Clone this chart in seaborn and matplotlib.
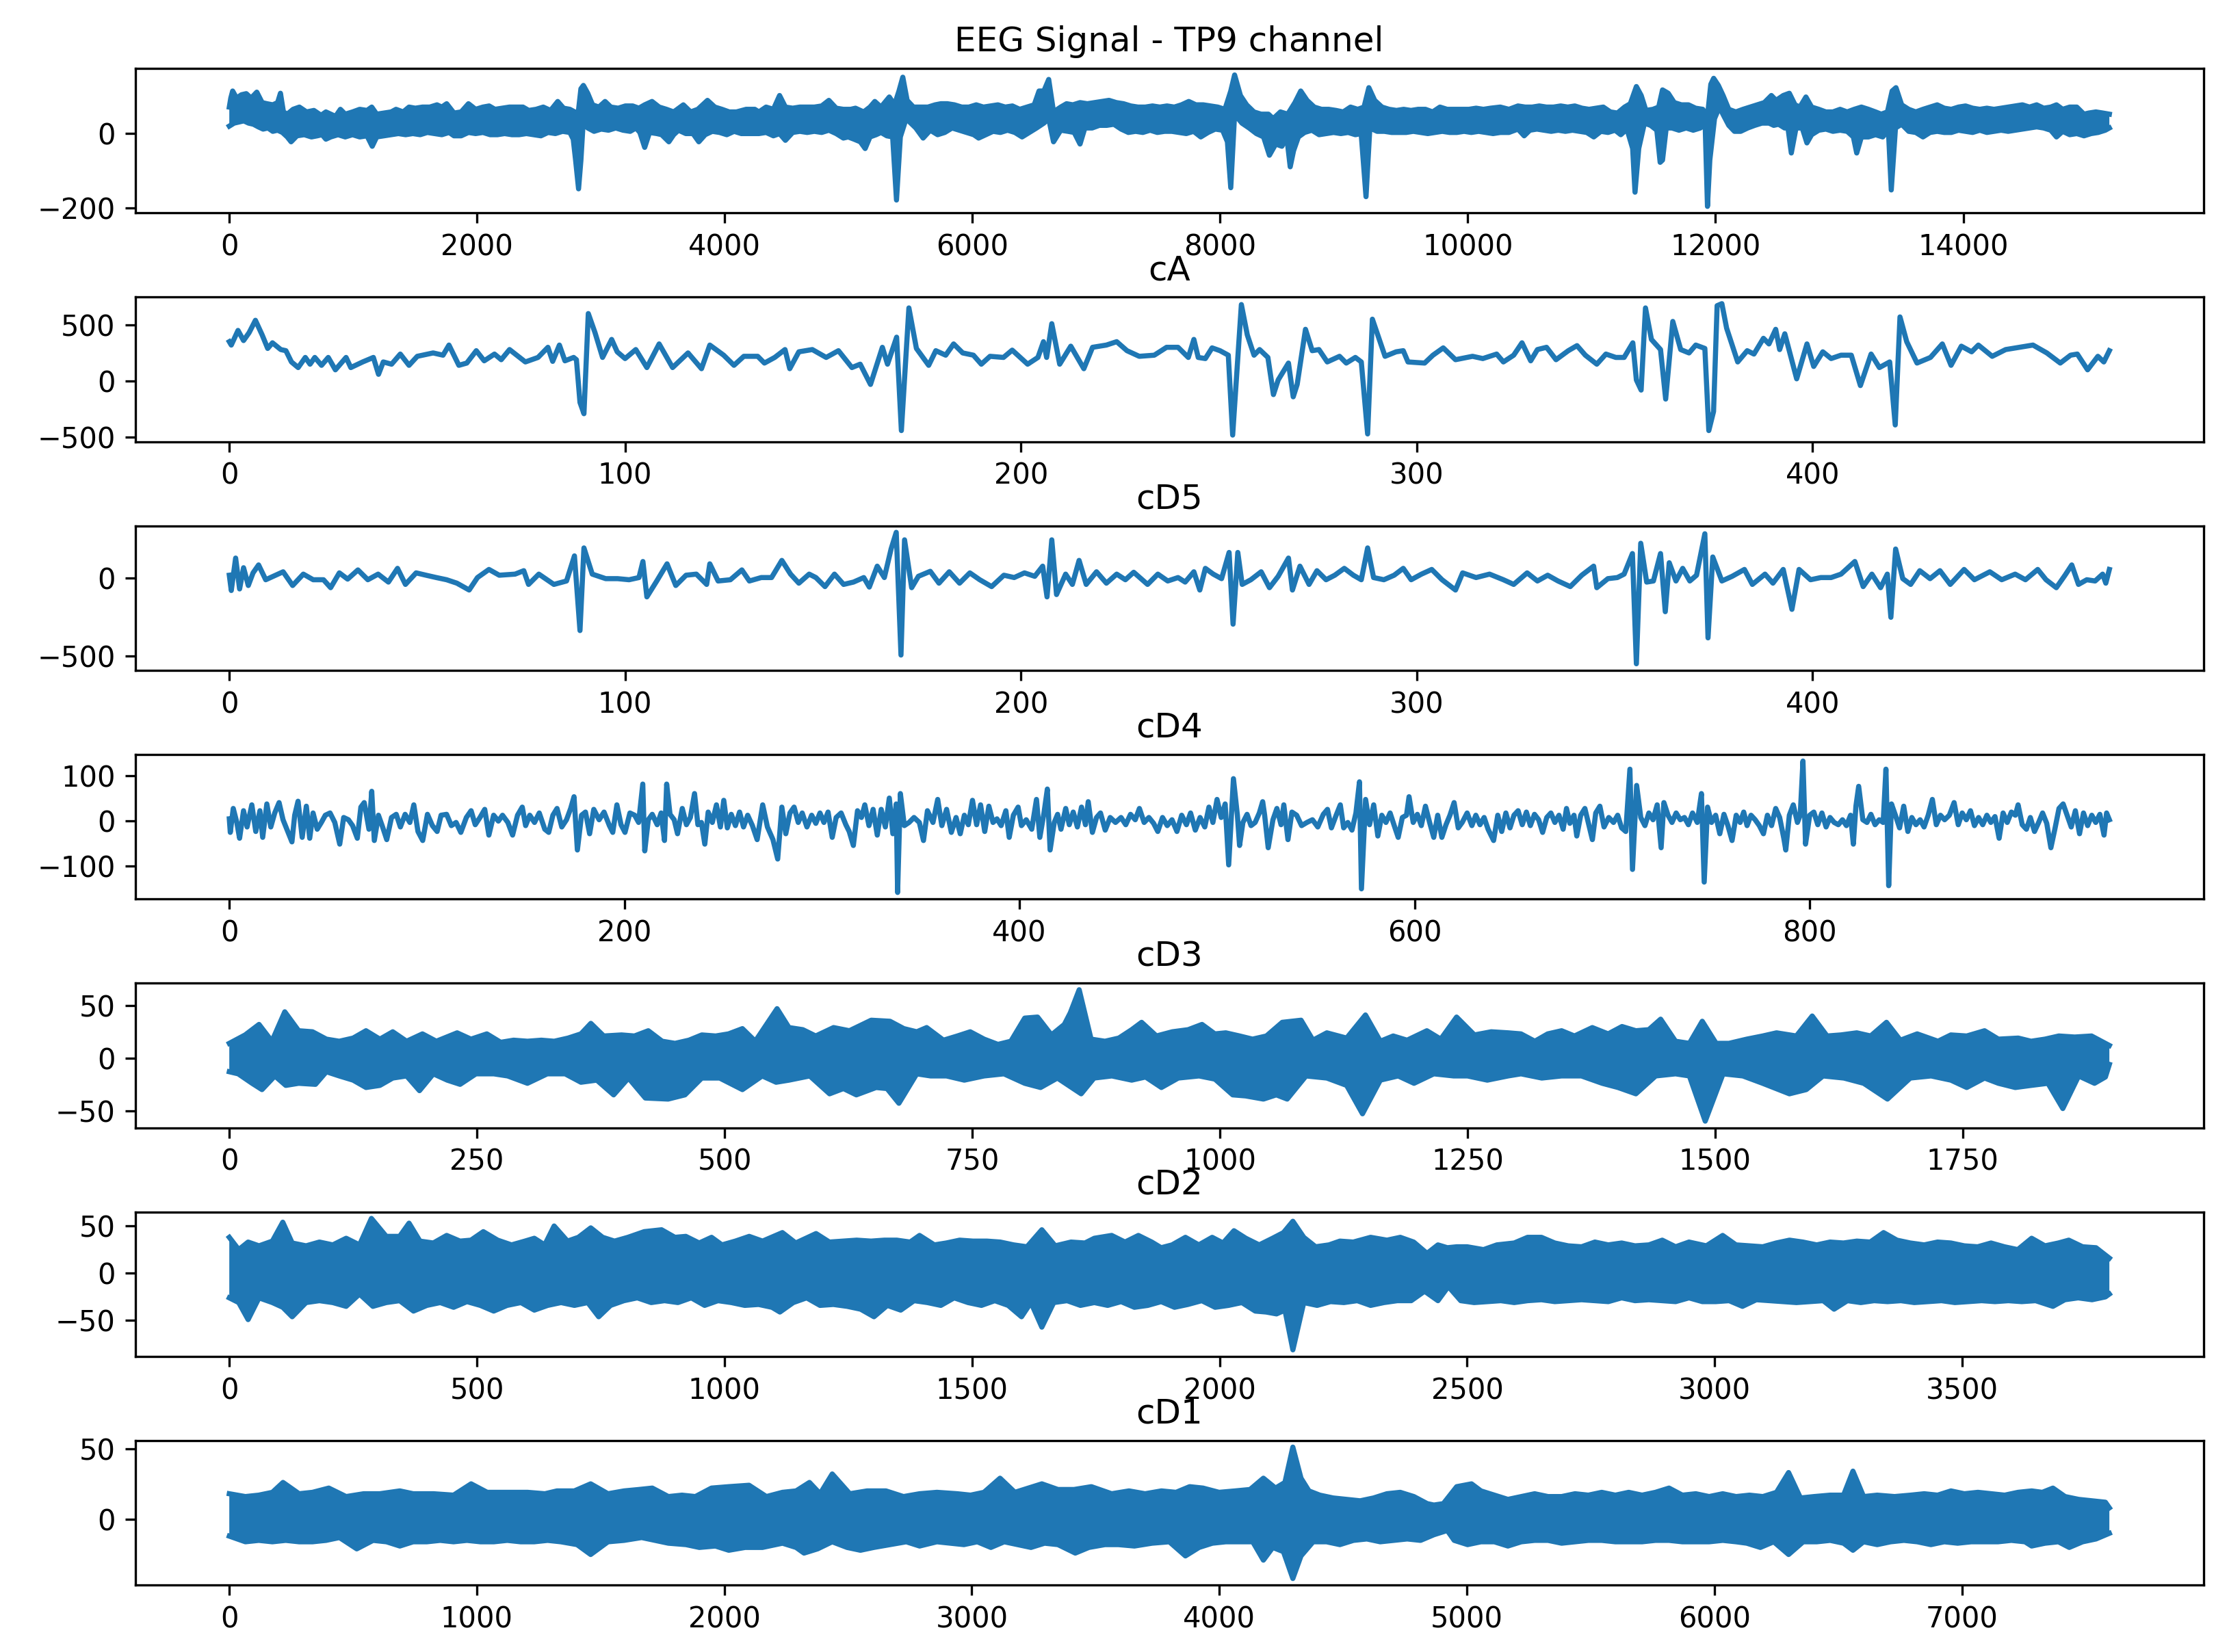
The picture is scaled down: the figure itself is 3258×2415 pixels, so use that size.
import matplotlib
matplotlib.use("Agg")
import matplotlib.pyplot as plt
from matplotlib.ticker import MultipleLocator
import seaborn as sns

# values (sample index, amplitude)
# dense panels are stored as upper / lower envelope of the trace

tp9_upper = [(0, 71), (12, 95), (27, 114), (59, 95), (98, 104), (137, 107), (176, 95), (222, 111), (265, 83),
             (304, 80), (351, 77), (390, 83), (413, 108), (437, 58), (468, 52), (515, 65), (566, 71), (624, 58),
             (683, 62), (741, 49), (780, 58), (819, 52), (858, 46), (897, 65), (936, 52), (995, 58), (1053, 65),
             (1112, 62), (1150, 71), (1190, 52), (1248, 55), (1307, 58), (1346, 65), (1404, 58), (1451, 71),
             (1502, 68), (1560, 71), (1619, 71), (1677, 77), (1716, 71), (1755, 80), (1814, 55), (1872, 58),
             (1931, 80), (1989, 65), (2048, 71), (2098, 74), (2145, 65), (2204, 68), (2262, 71), (2321, 71),
             (2371, 71), (2418, 62), (2477, 65), (2535, 71), (2594, 62), (2652, 86), (2699, 68), (2750, 65),
             (2789, 58), (2808, 28), (2839, 120), (2859, 129), (2894, 108), (2933, 77), (2984, 71), (3034, 86),
             (3081, 71), (3140, 68), (3198, 74), (3257, 74), (3307, 68), (3354, 77), (3413, 86), (3471, 71),
             (3530, 65), (3588, 58), (3666, 77), (3725, 58), (3783, 65), (3861, 89), (3920, 71), (3978, 65),
             (4037, 58), (4095, 58), (4173, 65), (4243, 65), (4276, 58), (4334, 71), (4393, 65), (4443, 102),
             (4490, 71), (4549, 68), (4607, 71), (4666, 71), (4724, 71), (4783, 74), (4841, 89), (4900, 68),
             (4958, 65), (5017, 65), (5056, 68), (5122, 58), (5173, 71), (5212, 86), (5262, 71), (5329, 98),
             (5371, 77), (5407, 114), (5438, 151), (5473, 89), (5524, 71), (5582, 71), (5641, 71), (5699, 77),
             (5746, 80), (5797, 80), (5855, 77), (5914, 71), (5972, 71), (6031, 77), (6089, 71), (6148, 74),
             (6206, 77), (6265, 71), (6323, 74), (6382, 65), (6440, 71), (6499, 77), (6538, 114), (6577, 114),
             (6616, 145), (6655, 58), (6713, 71), (6760, 80), (6811, 77), (6869, 83), (6928, 80), (6986, 83),
             (7045, 86), (7103, 89), (7162, 83), (7220, 80), (7279, 74), (7337, 71), (7396, 71), (7454, 74),
             (7513, 71), (7571, 74), (7630, 71), (7688, 77), (7747, 86), (7805, 77), (7864, 77), (7922, 74),
             (7981, 71), (8039, 65), (8086, 114), (8117, 157), (8164, 102), (8214, 77), (8273, 58), (8331, 52),
             (8390, 52), (8429, 40), (8487, 58), (8546, 52), (8604, 83), (8651, 114), (8702, 89), (8760, 71),
             (8819, 65), (8877, 65), (8936, 62), (8994, 58), (9053, 71), (9111, 65), (9162, 71), (9201, 123),
             (9248, 89), (9307, 71), (9365, 65), (9424, 62), (9482, 65), (9541, 62), (9599, 65), (9658, 65),
             (9716, 58), (9775, 71), (9833, 65), (9892, 65), (9950, 65), (10009, 65), (10067, 68), (10126, 65),
             (10184, 68), (10262, 71), (10332, 65), (10405, 74), (10463, 71), (10520, 71), (10577, 74),
             (10635, 71), (10692, 71), (10750, 74), (10807, 71), (10864, 74), (10922, 68), (10979, 65),
             (11036, 68), (11094, 71), (11151, 58), (11208, 55), (11266, 71), (11312, 80), (11361, 126),
             (11400, 102), (11438, 62), (11495, 65), (11541, 71), (11572, 117), (11618, 108), (11667, 83),
             (11725, 77), (11782, 77), (11839, 68), (11897, 65), (11935, 46), (11962, 132), (11985, 148),
             (12023, 129), (12061, 102), (12107, 65), (12164, 58), (12222, 65), (12279, 71), (12336, 77),
             (12394, 83), (12451, 102), (12489, 89), (12547, 102), (12596, 108), (12642, 77), (12681, 71),
             (12730, 98), (12776, 71), (12834, 65), (12891, 58), (12948, 58), (13006, 65), (13063, 58),
             (13120, 65), (13178, 71), (13235, 65), (13292, 58), (13338, 52), (13388, 58), (13426, 114),
             (13457, 123), (13503, 77), (13560, 65), (13617, 58), (13675, 65), (13732, 71), (13790, 77),
             (13847, 68), (13904, 65), (13962, 71), (14019, 74), (14076, 68), (14134, 65), (14191, 68),
             (14248, 65), (14306, 68), (14363, 71), (14421, 74), (14478, 77), (14535, 71), (14593, 77),
             (14650, 68), (14707, 71), (14753, 77), (14803, 65), (14860, 71), (14917, 71), (14975, 52),
             (15013, 55), (15071, 58), (15128, 55), (15180, 52)]

tp9_lower = [(0, 20), (39, 28), (78, 31), (117, 34), (156, 28), (195, 25), (234, 18), (273, 12), (312, 15),
             (351, 6), (390, 9), (429, 3), (468, -9), (499, -22), (546, -6), (605, -3), (663, -9), (710, -6),
             (749, -3), (780, -15), (819, -9), (878, -3), (936, -9), (995, -3), (1053, -9), (1112, -6),
             (1154, -34), (1190, -9), (1248, -6), (1307, -3), (1365, 0), (1424, -3), (1482, 0), (1541, -3),
             (1599, 3), (1658, 0), (1716, -3), (1775, 3), (1814, -6), (1872, -6), (1931, 3), (1989, 0),
             (2048, 3), (2106, -3), (2165, -3), (2223, 0), (2282, -3), (2340, -3), (2399, 0), (2457, -3),
             (2516, -6), (2574, 3), (2633, 0), (2691, 6), (2750, 3), (2777, -15), (2796, -71), (2820, -148),
             (2839, -71), (2859, 40), (2894, 15), (2945, 6), (3003, 12), (3062, 9), (3120, 15), (3179, 9),
             (3237, 6), (3284, 15), (3315, 3), (3354, -37), (3393, 3), (3452, 0), (3491, -3), (3549, -22),
             (3588, -3), (3627, 9), (3686, 0), (3744, 0), (3791, -22), (3842, -3), (3900, 6), (3959, 3),
             (4017, -3), (4076, 6), (4134, 0), (4193, 0), (4243, 0), (4276, 0), (4334, 3), (4393, -6),
             (4443, 0), (4490, -18), (4549, 3), (4607, 6), (4666, 3), (4724, 6), (4783, 3), (4841, 9),
             (4900, 0), (4958, -12), (4997, -9), (5044, -15), (5095, -22), (5134, -40), (5173, -9), (5223, -3),
             (5262, 3), (5309, -6), (5356, -9), (5387, -178), (5418, -9), (5465, 40), (5543, 15), (5602, -12),
             (5660, 9), (5719, -3), (5777, 3), (5836, 15), (5894, 9), (5953, 3), (6011, -3), (6050, -12),
             (6109, -3), (6167, 6), (6226, 3), (6284, 9), (6343, 3), (6401, -9), (6460, 3), (6518, 15),
             (6577, 28), (6616, 40), (6655, -22), (6713, 9), (6772, 6), (6822, 3), (6869, -28), (6908, 15),
             (6967, 15), (7025, 22), (7084, 22), (7142, 25), (7201, 12), (7259, 3), (7318, 6), (7376, 3),
             (7435, 9), (7493, 3), (7552, 6), (7610, 6), (7669, 3), (7727, 0), (7786, 6), (7844, -9),
             (7903, 3), (7961, 12), (8020, 9), (8059, -22), (8086, -145), (8117, 52), (8176, 28), (8234, 15),
             (8293, 0), (8351, -9), (8398, -58), (8449, -28), (8499, -34), (8538, -9), (8566, -89),
             (8593, -46), (8632, -9), (8682, 3), (8741, 9), (8799, -3), (8858, 0), (8916, 3), (8975, 0),
             (9034, 3), (9092, -3), (9139, 0), (9178, -169), (9209, 15), (9268, 6), (9326, 6), (9385, 3),
             (9443, 3), (9502, 3), (9560, 6), (9619, 3), (9677, 0), (9736, 3), (9794, 6), (9853, 3),
             (9911, 3), (9970, 6), (10028, 3), (10087, 6), (10145, 3), (10204, 0), (10262, 3), (10332, 3),
             (10405, 12), (10455, -6), (10501, 9), (10558, 12), (10616, 9), (10673, 6), (10730, 9), (10788, 6),
             (10845, 9), (10902, 6), (10960, 3), (11017, -9), (11075, 6), (11132, 3), (11189, 9), (11235, -3),
             (11285, 12), (11331, -40), (11350, -157), (11380, -40), (11426, 28), (11476, 22), (11526, 9),
             (11553, -77), (11572, -71), (11602, 15), (11648, 15), (11705, 9), (11763, 15), (11820, 9),
             (11878, 15), (11916, 28), (11935, -195), (11954, -71), (11992, 40), (12031, 71), (12069, 46),
             (12107, 22), (12153, 6), (12203, 6), (12260, 15), (12317, 22), (12375, 28), (12432, 28),
             (12470, 22), (12509, 25), (12558, 15), (12585, 15), (12612, -52), (12650, 15), (12700, 15),
             (12738, -25), (12776, -3), (12834, 9), (12891, 12), (12948, 6), (13006, 9), (13063, 6),
             (13113, -9), (13140, -52), (13178, -9), (13235, -9), (13292, -3), (13350, -9), (13396, 9),
             (13419, -151), (13453, 15), (13503, 25), (13560, 6), (13617, 3), (13675, -9), (13732, 3),
             (13790, 6), (13847, 3), (13904, 3), (13962, 9), (14019, 6), (14076, 3), (14134, 9), (14191, 3),
             (14248, 6), (14306, 9), (14363, 6), (14421, 9), (14478, 12), (14535, 15), (14593, 18),
             (14650, 15), (14707, 9), (14753, -9), (14803, 6), (14860, -3), (14917, 0), (14975, -6),
             (15033, 0), (15090, 3), (15147, 9), (15180, 15)]

ca_points = [(0, 350), (0.5, 320), (2.2, 450), (3.6, 360), (5, 430), (6.6, 540), (8.3, 410), (9.7, 290),
             (10.9, 340), (13, 280), (14.3, 270), (15.7, 170), (17.4, 120), (19.2, 210), (20.4, 150),
             (21.6, 210), (23.3, 140), (25, 210), (26.8, 100), (29.5, 210), (30.7, 120), (33.7, 170),
             (36.4, 210), (37.7, 60), (38.9, 170), (41, 150), (43.2, 240), (45.4, 140), (47.5, 220),
             (51.5, 250), (54, 230), (55.5, 320), (58, 140), (60, 160), (62.4, 270), (64.4, 180), (67, 240),
             (68.7, 190), (70.8, 280), (74.8, 170), (78, 210), (80.5, 300), (81.7, 175), (83.4, 320),
             (84.8, 180), (87, 210), (87.7, 190), (88.6, -190), (89.6, -290), (90.7, 600), (92.4, 430),
             (94.3, 210), (96.6, 370), (98, 260), (100, 200), (102.7, 280), (105.5, 120), (108.6, 330),
             (112, 120), (115.9, 250), (119.3, 110), (121.4, 320), (124.9, 230), (127.5, 140), (130, 220),
             (133.5, 220), (135.2, 160), (137.8, 210), (140.4, 280), (141.6, 110), (143.9, 260), (147.3, 280),
             (150.8, 210), (153.9, 270), (157.3, 120), (159.4, 150), (162, -30), (165, 300), (166.3, 150),
             (168.6, 390), (169.8, -440), (171.7, 650), (173.6, 290), (176.7, 140), (178.5, 270), (181, 230),
             (183, 330), (185.3, 250), (188, 230), (190, 150), (192.2, 220), (195.6, 210), (197.8, 275),
             (201.7, 150), (204.3, 210), (205.7, 350), (206.5, 210), (207.8, 510), (209.8, 150), (212.6, 310),
             (215.9, 110), (218.1, 300), (221.6, 320), (224.2, 350), (226.8, 270), (229.9, 220), (233.7, 230),
             (236.8, 300), (239.7, 300), (242.3, 210), (243.7, 370), (244.8, 210), (246.6, 200), (248.3, 295),
             (250.3, 270), (252.4, 230), (253.5, -480), (255.7, 680), (257.2, 410), (258.9, 230), (260.3, 280),
             (262.4, 210), (263.8, -120), (265, 10), (267.6, 160), (268.8, -140), (269.8, -30), (271.9, 460),
             (273.6, 270), (275.3, 280), (277.4, 170), (280.5, 220), (282.2, 160), (284.5, 210), (286, 170),
             (287.6, -470), (288.8, 550), (292, 220), (294.8, 260), (296.6, 270), (297.8, 170), (302, 160),
             (304.1, 230), (306.7, 295), (309.8, 190), (314.1, 220), (316.7, 200), (320.2, 240), (321.9, 170),
             (324.5, 230), (326.6, 340), (328.8, 180), (330.5, 280), (332.8, 300), (335.2, 190), (338.3, 270),
             (340.5, 315), (342.6, 230), (345.5, 150), (347.8, 240), (350.3, 210), (352.4, 210), (354.6, 340),
             (355.5, 10), (356.7, -80), (357.8, 650), (359.3, 370), (361.6, 280), (362.9, -160), (364.7, 530),
             (366.7, 280), (368.8, 250), (370.5, 320), (372.8, 290), (373.8, -440), (375, -270), (375.9, 670),
             (377.1, 688), (378.3, 470), (381.1, 170), (383.5, 270), (385.2, 240), (387.6, 380), (389, 330),
             (390.7, 460), (391.7, 280), (393, 420), (396, 20), (398.6, 330), (400.3, 130), (402.6, 260),
             (404.7, 200), (407.2, 230), (409.8, 230), (412.1, -40), (414.8, 240), (416.9, 120), (419.5, 170),
             (420.9, -390), (422.1, 570), (423.8, 350), (426.4, 160), (429.8, 210), (432.8, 330), (435, 140),
             (437.6, 310), (440.2, 260), (441.9, 320), (445.4, 220), (448.8, 280), (452.3, 300), (455.7, 320),
             (459.2, 250), (462.6, 160), (465.2, 230), (466.9, 240), (469.5, 100), (472.1, 220), (473.6, 170),
             (475, 270)]

cd5_points = [(0, 19), (0.5, -79), (1.6, 129), (2.6, -69), (3.6, 67), (4.8, -47), (6, 34), (7.4, 85), (9.2, -10),
              (11.7, 19), (13.6, 41), (16, -47), (18.7, 26), (21.2, -10), (23.8, -10), (25.6, -61), (27.8, 34),
              (29.9, -6), (32.5, 53), (35, -10), (37.6, 26), (40.2, -25), (42.5, 63), (44.5, -40), (47.2, 34),
              (49.7, 19), (52.3, 4), (54.9, -10), (57.5, -32), (60.6, -76), (62.7, 4), (65.6, 56), (68.2, 19),
              (72.2, 26), (74.4, 48), (75.6, -40), (78.2, 26), (82, -40), (85.2, -18), (87.2, 143),
              (88.6, -336), (89.6, 194), (91.7, 26), (95.1, -3), (98.1, -3), (101, -10), (103.5, 4),
              (104.5, 107), (105.5, -120), (108, -18), (110.6, 92), (112.8, -47), (115.4, 19), (118, 26),
              (120.6, -40), (121.4, 92), (123.5, -18), (126.6, -10), (129.5, 53), (131.4, -18), (134.4, 4),
              (137, 4), (139.6, 114), (141.8, 26), (143.9, -32), (146.5, 26), (148.2, 4), (150.5, -54),
              (152.9, 26), (155.2, -40), (157.7, -25), (160.3, 4), (161.7, -57), (163.7, 77), (165.5, 4),
              (167.2, 187), (168.5, 294), (169.7, -493), (170.6, 246), (172.4, -61), (174.1, 12), (177.1, 44),
              (179.3, -32), (181.9, 41), (184.5, -32), (187.1, 34), (189.6, -10), (192.6, -54), (195.7, 19),
              (198.3, 4), (200.9, 34), (203.5, 12), (205.5, 77), (206.6, -120), (207.8, 246), (209, -105),
              (211.3, 26), (213, -40), (214.7, 114), (216.5, -40), (219.1, 41), (221.6, -32), (224.2, 26),
              (226.4, -10), (228.5, 38), (232, -40), (234.6, 26), (237.1, -18), (239.7, 4), (241.5, -25),
              (243.7, 41), (245.2, -76), (246.6, 63), (248.6, 26), (250.7, -3), (252.6, 165), (253.6, -295),
              (254.8, 165), (255.9, -40), (258.1, -10), (260.7, 41), (262.8, -61), (265, 12), (267.6, 129),
              (268.6, -76), (270.5, 77), (272.8, -40), (274.8, 48), (277.1, -10), (279.3, 19), (281.7, 63),
              (284, 19), (286, -10), (287.6, 194), (289.1, 4), (291.7, -10), (294.3, 19), (296.6, 63),
              (298.6, -10), (301.2, 26), (303.8, 56), (306.4, -10), (309.8, -76), (311.6, 34), (315, 4),
              (318.4, 26), (321.9, -10), (324.5, -40), (327.9, 34), (330.5, -18), (333.1, 19), (335.7, -18),
              (338.8, -54), (341.7, 19), (344.7, 77), (345.5, -61), (348.3, -3), (350.7, 4), (352.4, 26),
              (354.5, 158), (355.5, -549), (356.6, 224), (358.1, -25), (359.8, -18), (361.6, 158),
              (362.8, -215), (363.8, 99), (365.5, -18), (367.2, 63), (369, -18), (370.7, 19), (372.8, 285),
              (373.6, -383), (374.8, 136), (377.1, -18), (379.7, 12), (382.8, 56), (384.8, -40), (388, 26),
              (390, -32), (392.6, 56), (394.8, -200), (396.6, 56), (399.5, -10), (402.1, 4), (404.7, 4),
              (407.2, 26), (410.7, 107), (412.8, -54), (415, 26), (417.2, -61), (418.9, 26), (419.8, -251),
              (421, 187), (422.8, -3), (424.8, -40), (427.1, 48), (429.7, -3), (432.2, 48), (434.8, -40),
              (438.3, 56), (440.9, -10), (444.8, 41), (447.8, -10), (451.2, 26), (453.8, -10), (456.9, 56),
              (459, -10), (461.6, -61), (463.8, 19), (465.5, 85), (467.2, -40), (469.3, -10), (471.4, -18),
              (473.3, 26), (474.1, -32), (475, 56)]

cd4_points = [(0, 5), (0.5, -25), (2, 28), (3.8, -3), (5.2, -38), (7.2, 23), (9, -13), (11.4, 36), (13.4, -23),
              (15.5, 23), (16.9, -36), (19, 38), (21, -13), (23, 18), (25.2, 41), (27.2, 3), (29.3, -20),
              (31.7, -46), (33.1, 13), (34.8, 44), (36.9, -36), (39, 33), (40.7, -38), (42.4, 18), (44.5, -18),
              (46.6, -3), (48.6, 13), (51, 18), (53.4, -3), (55.9, -51), (57.9, 8), (60.3, 3), (62.4, -10),
              (64.8, -38), (66.6, 31), (68.3, 41), (70.7, -18), (72.1, 66), (73.4, -43), (75.5, 13),
              (77.6, -13), (79.7, -41), (82.1, 8), (84.5, 15), (86.6, -13), (89, 15), (91.4, -3), (93.4, 36),
              (95.5, -23), (97.9, -43), (100.3, 15), (102.8, -10), (105.2, -23), (107.2, 13), (110, 15),
              (112.4, -10), (114.8, -3), (117.2, -25), (120, 8), (122.4, 23), (124.5, -8), (126.9, 8),
              (129.3, 26), (131.4, -31), (133.8, 13), (136.2, 0), (138.3, 13), (141, -3), (143.4, -31),
              (145.9, 13), (148.3, 31), (150, -10), (152.1, 13), (154.5, -3), (156.9, 18), (159.7, -18),
              (161.7, -25), (163.8, 13), (165.9, 28), (168.3, -13), (170.7, 3), (172.8, 28), (174.5, 54),
              (176.2, -64), (178.3, 13), (180.3, 20), (182.4, -28), (184.5, 26), (187.2, 3), (189.7, 20),
              (192.4, -10), (194.1, -25), (196.2, 36), (198.3, -8), (200.3, -25), (202.8, 18), (205.2, 13),
              (207.2, -3), (209.3, 82), (210.3, -66), (212.1, 3), (214.1, 15), (216.6, -8), (218.6, 18),
              (220.3, -43), (221.4, 82), (223.1, 15), (225.2, 3), (226.9, -28), (229.3, 28), (231.4, -8),
              (233.4, 8), (235.5, 61), (237.2, -8), (239, -3), (240.7, -51), (242.4, 20), (244.5, -3),
              (246.6, 36), (248.6, -13), (250.3, 46), (252.1, -15), (254.1, 15), (256.2, -10), (258.3, 20),
              (260.3, -13), (262.4, 13), (264.8, -10), (267.2, -41), (270, 36), (272.4, -13), (275.2, -41),
              (277.6, -84), (279.7, 31), (281.7, -28), (283.8, 18), (285.9, 31), (288, -3), (290, 18),
              (292.4, -13), (294.8, 13), (296.9, -5), (299, 18), (301, -3), (303.1, 20), (305.2, -36),
              (307.2, 8), (309.7, 18), (312.1, -8), (313.8, -23), (315.9, -54), (318, 23), (320, 8),
              (321.7, 36), (323.8, -10), (325.9, 26), (328, -31), (330, 26), (332.1, -13), (334.1, 51),
              (335.9, -28), (337.6, 38), (338.3, -158), (339.7, 61), (341.7, -10), (344.1, -3), (346.6, 8),
              (349.3, -3), (351.4, -43), (353.4, 23), (356.2, -3), (358.6, 48), (360.7, -10), (363.1, 26),
              (365.5, -25), (367.9, 8), (370, -28), (372.1, 13), (374.1, -8), (376.2, 46), (378.3, -8),
              (380.3, 36), (382.4, -23), (384.5, 33), (386.6, -3), (388.6, 5), (390.7, -10), (393.1, 23),
              (394.8, -36), (396.9, 13), (399.3, 31), (401, -10), (403.4, 3), (406.2, -18), (408.6, 48),
              (410.3, -36), (412.4, 18), (414.1, 71), (415.5, -64), (417.6, -3), (419.3, 15), (421, -18),
              (423.4, 28), (425.2, -8), (427.2, 20), (429.3, -13), (431.4, 31), (433.4, -8), (434.8, 43),
              (436.9, -25), (439, 8), (441, 18), (443.4, -20), (445.9, 8), (448.6, -3), (451.4, 8),
              (453.8, -8), (456.2, 15), (458.6, 3), (460.7, 28), (463.1, -3), (465.5, 8), (467.9, -5),
              (470, -23), (472.4, 8), (474.8, -10), (477.2, 3), (479.7, -23), (482.1, 13), (484.5, -8),
              (486.6, 18), (489, -20), (491.4, 8), (493.8, -13), (495.9, 31), (497.9, -3), (500, 48),
              (502.1, 8), (504.1, 38), (505.9, -97), (508.3, 94), (510.3, 13), (511.4, -54), (513.1, -3),
              (515.2, 15), (517.2, -10), (519.3, -3), (521.4, 18), (523.1, 43), (524.1, 13), (525.9, -59),
              (528.3, 3), (530.3, 28), (532.4, -8), (533.8, 36), (535.9, -41), (537.9, 20), (540.3, 13),
              (542.8, -10), (545.5, -3), (548.3, 3), (551, -13), (553.8, 15), (555.9, 26), (557.9, -15),
              (560.3, 13), (562.4, 36), (564.1, -15), (566.2, -3), (568.3, -20), (570.3, 18), (572.1, 87),
              (573.1, -150), (575.2, 48), (577.2, -8), (579.3, 36), (581.4, -33), (583.4, 13), (585.5, -3),
              (587.6, 18), (589.7, -10), (591.7, -36), (593.8, 8), (595.9, 13), (597.2, 54), (599.3, -3),
              (601.4, 15), (603.4, -10), (605.5, 33), (607.6, -3), (609.7, -36), (611.7, 13), (613.8, -36),
              (615.9, -8), (617.9, 13), (620, 41), (622.1, -15), (624.1, -3), (626.6, 18), (629, -10),
              (631, 13), (633.1, -8), (635.2, 8), (637.2, -18), (640, -43), (642.1, 13), (644.1, -23),
              (646.2, 18), (648.3, -15), (650.3, 13), (652.4, 23), (654.5, -8), (656.6, 20), (658.6, -10),
              (660.7, 15), (662.8, 3), (664.8, -25), (666.9, 8), (669, 18), (671, -3), (673.1, 13),
              (675.2, -18), (676.9, 28), (678.6, -5), (680.7, 13), (682.1, -33), (684.1, 13), (686.2, 28),
              (688.3, -10), (690, -41), (691.7, 18), (693.8, 33), (695.9, -13), (698.3, 8), (700.7, -3),
              (702.8, 13), (704.8, -15), (706.9, -23), (709, 115), (710.3, -107), (712.4, 79), (714.5, 8),
              (716.6, -10), (718.6, 18), (720.7, 3), (722.8, 36), (724.8, -59), (726.2, 41), (728.3, 13),
              (730.3, -3), (732.4, 18), (734.5, 3), (736.6, 8), (738.6, -8), (740.7, 18), (743.1, -3),
              (745.2, 61), (746.6, -135), (748.3, 31), (750.3, -3), (752.4, 13), (754.5, -28), (756.6, 15),
              (758.6, -10), (760.7, -43), (762.8, 13), (764.8, -3), (766.6, 20), (768.3, -10), (770.3, 13),
              (772.4, 3), (774.5, -10), (776.6, -28), (778.6, 13), (780.7, -10), (782.8, 28), (784.8, 8),
              (786.9, -38), (787.9, -64), (789.7, 13), (791.7, 36), (793.8, -3), (795.2, 13), (796.6, 133),
              (797.9, -51), (800, 13), (802.1, 20), (804.1, -8), (806.2, 18), (808.3, -13), (810.3, 8),
              (812.4, -3), (814.5, -8), (816.6, 3), (818.6, -10), (820.7, 13), (822.1, -51), (823.4, 33),
              (824.8, 77), (826.9, 3), (829, -3), (831, 15), (833.1, -8), (835.2, 3), (837.2, -3),
              (838.6, 115), (840, -143), (841.4, 38), (843.4, 13), (845.5, -15), (847.6, 33), (849.7, -23),
              (851.7, 8), (853.8, -8), (855.9, 3), (857.9, -13), (860, 13), (862.1, 48), (864.1, -8),
              (866.2, 13), (868.3, 3), (870.7, 13), (873.1, 41), (875.2, -8), (877.2, 18), (879.3, 3),
              (881.4, 23), (883.4, -10), (885.5, 8), (887.6, -8), (889.7, 13), (891.7, -3), (893.8, 10),
              (895.9, -38), (897.9, 18), (900, -3), (902.1, 20), (904.1, 13), (905.5, 36), (907.6, -8),
              (909.7, -18), (911.7, 8), (913.8, -23), (915.9, -3), (917.9, 18), (920, -5), (922.1, -59),
              (924.1, -18), (926.2, 28), (928.3, 38), (930.3, 13), (932.4, -13), (934.5, 23), (936.6, -28),
              (938.6, 18), (940.7, -10), (942.8, 13), (944.8, -3), (946.9, 15), (949, -31), (950.3, 18),
              (951.7, 3)]

cd3_upper = [(0, 14), (16, 22), (30, 32), (43, 16), (56, 44), (70, 26), (84, 25), (98, 18), (111, 16), (125, 19),
             (138, 26), (152, 18), (165, 25), (179, 16), (195, 23), (209, 16), (230, 24), (244, 18), (260, 23),
             (274, 15), (287, 17), (301, 16), (315, 17), (328, 16), (342, 19), (355, 23), (365, 33), (378, 21),
             (396, 22), (409, 21), (423, 26), (437, 16), (450, 14), (464, 17), (477, 22), (491, 21), (504, 23),
             (518, 28), (531, 16), (553, 47), (565, 29), (579, 27), (592, 21), (610, 29), (626, 26), (648, 36),
             (667, 35), (681, 28), (694, 25), (704, 29), (721, 17), (735, 21), (748, 25), (762, 18), (776, 13),
             (789, 16), (803, 38), (816, 39), (830, 22), (843, 32), (849, 43), (858, 65), (870, 18), (884, 16),
             (898, 19), (911, 27), (921, 34), (936, 21), (952, 25), (968, 27), (982, 32), (995, 23), (1006, 24),
             (1020, 21), (1033, 18), (1047, 21), (1063, 34), (1082, 36), (1094, 17), (1108, 24), (1128, 19),
             (1147, 41), (1162, 16), (1175, 21), (1189, 17), (1209, 26), (1223, 18), (1239, 39), (1257, 22),
             (1274, 25), (1291, 24), (1304, 23), (1318, 16), (1331, 23), (1345, 26), (1358, 21), (1376, 29),
             (1392, 23), (1406, 30), (1420, 26), (1433, 27), (1445, 37), (1460, 16), (1474, 14), (1487, 35),
             (1501, 14), (1514, 14), (1532, 18), (1548, 21), (1562, 24), (1582, 21), (1598, 40), (1613, 21),
             (1627, 22), (1643, 24), (1657, 21), (1673, 34), (1687, 17), (1704, 23), (1725, 16), (1738, 22),
             (1754, 21), (1772, 26), (1786, 18), (1806, 19), (1819, 16), (1833, 18), (1847, 21), (1863, 20),
             (1880, 21), (1898, 12)]

cd3_lower = [(0, -13), (9, -15), (23, -24), (33, -30), (46, -17), (57, -26), (70, -24), (87, -25), (98, -13),
             (111, -17), (125, -21), (138, -28), (152, -26), (165, -19), (179, -17), (192, -31), (206, -15),
             (220, -21), (233, -25), (249, -15), (267, -15), (281, -17), (301, -24), (321, -15), (339, -15),
             (355, -23), (371, -21), (388, -35), (403, -19), (420, -38), (443, -39), (460, -35), (477, -19),
             (495, -19), (518, -30), (538, -17), (552, -23), (565, -21), (586, -17), (606, -34), (620, -29),
             (633, -35), (653, -28), (664, -29), (676, -43), (694, -15), (708, -17), (724, -17), (742, -21),
             (762, -17), (782, -15), (803, -24), (819, -28), (836, -19), (860, -34), (873, -19), (891, -17),
             (911, -21), (925, -18), (941, -28), (958, -19), (979, -17), (995, -20), (1013, -35), (1026, -36),
             (1044, -39), (1057, -35), (1068, -39), (1087, -17), (1108, -19), (1128, -26), (1144, -53),
             (1162, -21), (1180, -17), (1196, -24), (1216, -15), (1236, -17), (1250, -17), (1270, -21),
             (1291, -17), (1304, -15), (1325, -19), (1345, -17), (1365, -17), (1386, -24), (1402, -28),
             (1420, -34), (1440, -17), (1460, -15), (1474, -17), (1490, -60), (1508, -15), (1528, -17),
             (1548, -24), (1575, -34), (1592, -30), (1609, -17), (1630, -19), (1650, -24), (1674, -39),
             (1697, -19), (1718, -17), (1738, -21), (1754, -28), (1772, -19), (1786, -24), (1803, -28),
             (1819, -26), (1836, -24), (1851, -48), (1867, -17), (1883, -24), (1894, -18), (1898, -6)]

cd2_upper = [(0, 38), (19, 25), (38, 33), (60, 29), (87, 34), (108, 54), (127, 32), (155, 29), (182, 33),
             (209, 30), (236, 37), (263, 30), (287, 58), (317, 39), (344, 39), (363, 53), (385, 34), (412, 32),
             (439, 40), (466, 34), (488, 35), (513, 44), (542, 35), (570, 30), (597, 34), (616, 37), (637, 30),
             (656, 50), (683, 34), (705, 38), (730, 48), (754, 38), (778, 34), (805, 38), (838, 44), (873, 46),
             (900, 38), (922, 39), (949, 32), (974, 38), (995, 30), (1022, 34), (1050, 39), (1077, 34),
             (1117, 43), (1144, 32), (1185, 42), (1212, 33), (1239, 34), (1267, 35), (1296, 34), (1323, 35),
             (1348, 35), (1375, 33), (1394, 40), (1424, 30), (1448, 32), (1475, 35), (1502, 34), (1530, 34),
             (1557, 33), (1584, 30), (1611, 28), (1641, 46), (1668, 29), (1700, 33), (1728, 32), (1747, 37),
             (1782, 40), (1809, 33), (1836, 40), (1863, 33), (1882, 27), (1904, 30), (1931, 38), (1958, 30),
             (1985, 38), (2007, 32), (2029, 45), (2053, 37), (2080, 30), (2107, 37), (2129, 43), (2148, 55),
             (2170, 38), (2194, 28), (2221, 30), (2243, 34), (2270, 33), (2305, 38), (2338, 35), (2365, 38),
             (2392, 33), (2419, 21), (2441, 30), (2460, 27), (2479, 28), (2500, 28), (2533, 25), (2560, 30),
             (2595, 32), (2622, 38), (2650, 38), (2677, 32), (2704, 29), (2731, 28), (2758, 33), (2785, 30),
             (2812, 32), (2839, 29), (2867, 30), (2894, 35), (2921, 28), (2948, 33), (2983, 29), (3016, 40),
             (3043, 30), (3070, 29), (3097, 28), (3124, 32), (3151, 35), (3178, 33), (3206, 30), (3233, 33),
             (3260, 32), (3287, 34), (3314, 33), (3341, 43), (3368, 35), (3395, 32), (3423, 30), (3450, 33),
             (3477, 32), (3504, 29), (3531, 28), (3558, 32), (3585, 28), (3612, 25), (3640, 37), (3667, 29),
             (3694, 32), (3715, 35), (3743, 28), (3770, 27), (3797, 16)]

cd2_lower = [(0, -26), (19, -31), (38, -49), (60, -26), (87, -31), (108, -36), (127, -46), (155, -31),
             (182, -29), (209, -31), (236, -35), (263, -22), (290, -35), (317, -31), (344, -29), (372, -40),
             (399, -34), (426, -31), (453, -36), (480, -30), (507, -34), (534, -40), (561, -34), (589, -31),
             (616, -39), (643, -34), (670, -31), (697, -34), (724, -31), (746, -46), (770, -34), (797, -29),
             (824, -26), (852, -31), (879, -29), (906, -31), (933, -26), (960, -34), (987, -29), (1014, -31),
             (1041, -34), (1069, -33), (1096, -36), (1112, -41), (1139, -31), (1166, -26), (1193, -34),
             (1220, -33), (1248, -35), (1275, -38), (1302, -46), (1329, -34), (1356, -39), (1383, -29),
             (1410, -31), (1437, -34), (1464, -26), (1492, -31), (1519, -34), (1546, -29), (1573, -34),
             (1600, -46), (1619, -31), (1641, -57), (1665, -31), (1692, -29), (1719, -34), (1747, -31),
             (1774, -34), (1801, -30), (1828, -36), (1855, -34), (1882, -30), (1909, -36), (1936, -33),
             (1964, -29), (1991, -36), (2018, -34), (2045, -31), (2072, -40), (2094, -41), (2115, -43),
             (2132, -39), (2148, -81), (2170, -31), (2197, -34), (2224, -30), (2251, -31), (2278, -29),
             (2305, -34), (2332, -31), (2359, -29), (2387, -29), (2414, -19), (2441, -29), (2462, -14),
             (2487, -29), (2514, -31), (2541, -30), (2568, -29), (2595, -31), (2622, -29), (2650, -28),
             (2677, -30), (2704, -29), (2731, -28), (2758, -29), (2785, -30), (2812, -26), (2839, -29),
             (2867, -28), (2894, -29), (2921, -30), (2948, -26), (2975, -30), (3002, -30), (3029, -29),
             (3056, -35), (3084, -28), (3111, -29), (3138, -30), (3165, -31), (3192, -30), (3219, -29),
             (3241, -38), (3268, -29), (3295, -31), (3322, -29), (3349, -30), (3376, -29), (3403, -31),
             (3431, -30), (3458, -29), (3485, -31), (3512, -30), (3539, -29), (3566, -30), (3593, -29),
             (3620, -30), (3648, -29), (3683, -35), (3707, -28), (3734, -26), (3762, -28), (3789, -25),
             (3797, -22)]

cd1_upper = [(0, 18), (65, 16), (119, 17), (174, 19), (217, 26), (282, 18), (336, 19), (402, 22), (472, 16),
             (543, 18), (608, 18), (689, 20), (743, 18), (825, 18), (906, 17), (977, 25), (1042, 19),
             (1123, 19), (1205, 19), (1275, 18), (1324, 20), (1394, 20), (1460, 25), (1530, 18), (1595, 20),
             (1655, 21), (1709, 22), (1774, 16), (1829, 17), (1883, 16), (1948, 22), (2018, 23), (2100, 24),
             (2170, 16), (2235, 19), (2290, 20), (2344, 26), (2387, 18), (2436, 32), (2507, 18), (2577, 20),
             (2653, 20), (2724, 16), (2789, 18), (2859, 19), (2941, 18), (2995, 17), (3049, 19), (3114, 29),
             (3174, 19), (3228, 22), (3283, 25), (3348, 21), (3413, 21), (3483, 23), (3565, 18), (3635, 20),
             (3700, 18), (3766, 20), (3825, 19), (3880, 23), (3934, 22), (3999, 19), (4064, 20), (4124, 21),
             (4178, 29), (4227, 22), (4265, 26), (4297, 51), (4330, 29), (4362, 20), (4406, 17), (4460, 15),
             (4514, 14), (4569, 13), (4623, 15), (4677, 18), (4731, 19), (4786, 16), (4840, 11), (4867, 10),
             (4905, 11), (4959, 23), (5019, 25), (5057, 20), (5111, 17), (5166, 14), (5220, 16), (5274, 18),
             (5328, 16), (5383, 16), (5437, 18), (5491, 17), (5545, 19), (5600, 17), (5654, 19), (5708, 17),
             (5762, 19), (5817, 22), (5871, 17), (5925, 18), (5979, 16), (6034, 18), (6088, 16), (6142, 17),
             (6196, 16), (6251, 19), (6300, 33), (6348, 15), (6403, 16), (6468, 17), (6522, 17), (6560, 34),
             (6603, 16), (6658, 17), (6728, 16), (6793, 17), (6848, 18), (6902, 17), (6956, 20), (7010, 18),
             (7065, 19), (7119, 18), (7173, 17), (7227, 19), (7282, 20), (7325, 19), (7368, 22), (7417, 16),
             (7472, 14), (7526, 13), (7580, 12), (7596, 8)]

cd1_lower = [(0, -12), (65, -16), (119, -15), (174, -16), (228, -15), (282, -16), (336, -16), (391, -15),
             (445, -13), (515, -21), (581, -15), (635, -16), (689, -19), (743, -16), (798, -16), (852, -15),
             (906, -16), (960, -15), (1015, -16), (1069, -16), (1123, -15), (1177, -16), (1232, -16),
             (1286, -15), (1340, -16), (1405, -18), (1460, -25), (1530, -16), (1595, -15), (1666, -13),
             (1720, -15), (1774, -17), (1845, -18), (1899, -20), (1964, -19), (2018, -22), (2084, -20),
             (2154, -20), (2235, -17), (2290, -20), (2322, -24), (2377, -21), (2436, -16), (2496, -20),
             (2550, -22), (2604, -20), (2670, -18), (2735, -16), (2789, -19), (2859, -16), (2914, -17),
             (2968, -18), (3022, -16), (3077, -20), (3131, -16), (3185, -18), (3239, -20), (3294, -17),
             (3348, -18), (3418, -24), (3473, -20), (3538, -18), (3592, -18), (3657, -19), (3728, -17),
             (3798, -16), (3863, -26), (3918, -20), (3972, -17), (4026, -16), (4080, -16), (4135, -16),
             (4178, -29), (4216, -20), (4259, -23), (4297, -42), (4330, -26), (4379, -16), (4433, -16),
             (4487, -18), (4542, -15), (4596, -14), (4650, -16), (4704, -15), (4759, -14), (4813, -15),
             (4867, -11), (4921, -8), (4949, -15), (5003, -18), (5057, -16), (5111, -16), (5166, -19),
             (5220, -16), (5274, -15), (5328, -15), (5383, -17), (5437, -16), (5491, -15), (5545, -15),
             (5600, -16), (5654, -16), (5708, -16), (5762, -15), (5817, -15), (5871, -16), (5925, -16),
             (5979, -16), (6034, -15), (6088, -16), (6131, -17), (6186, -20), (6240, -16), (6300, -25),
             (6359, -16), (6414, -16), (6468, -15), (6522, -17), (6560, -22), (6603, -16), (6658, -18),
             (6712, -16), (6766, -15), (6820, -16), (6875, -18), (6929, -16), (6983, -17), (7038, -16),
             (7092, -16), (7146, -16), (7200, -15), (7255, -16), (7282, -19), (7336, -17), (7390, -16),
             (7434, -20), (7488, -16), (7542, -14), (7596, -10)]

panel_titles = ["EEG Signal - TP9 channel", "cA", "cD5", "cD4", "cD3", "cD2", "cD1"]
x_steps = [2000, 100, 100, 200, 250, 500, 1000]
y_steps = [200, 500, 500, 100, 50, 50, 50]

BLUE = "#1f77b4"
LW = 1.8


def draw_line(ax, points):
    x, y = zip(*points)
    sns.lineplot(x=list(x), y=list(y), ax=ax, color=BLUE, linewidth=LW,
                 estimator=None, sort=False)


def draw_band(ax, upper, lower):
    xu, yu = zip(*upper)
    xl, yl = zip(*lower)
    # the trace is too dense to show sample by sample, fill between its edges
    ax.fill(list(xu) + list(xl[::-1]), list(yu) + list(yl[::-1]), color=BLUE, linewidth=0)
    sns.lineplot(x=list(xu), y=list(yu), ax=ax, color=BLUE, linewidth=LW, estimator=None, sort=False)
    sns.lineplot(x=list(xl), y=list(yl), ax=ax, color=BLUE, linewidth=LW, estimator=None, sort=False)


def main():
    fig, axes = plt.subplots(7, 1, figsize=(10.86, 8.05), dpi=300)
    fig.subplots_adjust(left=0.0607, right=0.9885, top=0.9586, bottom=0.0405, hspace=0.582)

    draw_band(axes[0], tp9_upper, tp9_lower)
    draw_line(axes[1], ca_points)
    draw_line(axes[2], cd5_points)
    draw_line(axes[3], cd4_points)
    draw_band(axes[4], cd3_upper, cd3_lower)
    draw_band(axes[5], cd2_upper, cd2_lower)
    draw_band(axes[6], cd1_upper, cd1_lower)

    for ax, title, xs, ys in zip(axes, panel_titles, x_steps, y_steps):
        ax.set_title(title)
        ax.xaxis.set_major_locator(MultipleLocator(xs))
        ax.yaxis.set_major_locator(MultipleLocator(ys))
        ax.set_xlabel("")
        ax.set_ylabel("")

    fig.savefig("out.png", dpi=300)


if __name__ == "__main__":
    main()
